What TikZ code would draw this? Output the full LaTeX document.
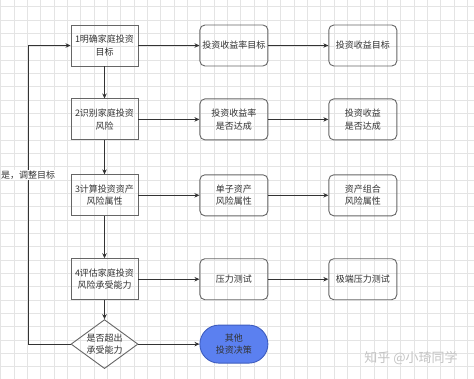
\documentclass[tikz,border=0pt]{standalone}
\usepackage{fontspec}
\newfontfamily\cjk{Noto Sans CJK SC}
\usepackage{xcolor}
\definecolor{cLine}{HTML}{333333}
\definecolor{cBorder}{HTML}{666666}
\definecolor{cText}{HTML}{333333}
\definecolor{cGrid}{HTML}{E4E4E4}
\definecolor{cBlue}{HTML}{5B80F0}
\definecolor{cBlueDark}{HTML}{3D5CBF}
\definecolor{cMark}{HTML}{C4C4C4}
\usepackage{tikz}
\usetikzlibrary{positioning,arrows.meta,shapes.geometric}
\tikzset{
  node-step/.style={draw=cBorder,line width=0.9pt,minimum width=67pt,
    minimum height=41pt,inner sep=1pt,align=center,text=cText,
    font=\cjk\fontsize{9}{12.5}\selectfont},
  node-result/.style={node-step,rounded corners=5pt,minimum width=68pt},
  node-check/.style={draw=cBorder,line width=0.9pt,diamond,aspect=1.37,
    minimum width=67pt,minimum height=49pt,inner sep=-3pt,align=center,
    text=cText,font=\cjk\fontsize{9}{12.5}\selectfont},
  node-end/.style={draw=cBlueDark,line width=0.9pt,fill=cBlue,
    rounded corners=19pt,minimum width=68pt,minimum height=38pt,
    inner sep=1pt,align=center,text=cText,
    font=\cjk\fontsize{9}{12.5}\selectfont},
  arrow/.style={-{Stealth[length=5pt,width=4.5pt]},line width=1pt,draw=cLine},
  grid-line/.style={draw=cGrid,line width=0.6pt},
}

\begin{document}
\begin{tikzpicture}[x=1pt,y=1pt]
  \useasboundingbox (0,0) rectangle (474,-378);
  \fill[white] (0,0) rectangle (474,-378);
  \begin{scope}[shift={(0.7,-6.7)}]
    \draw[grid-line,step=13.333pt] (-14,14) grid (480,-390);
  \end{scope}

  % steps on the left
  \node[node-step] (s1) at (104.5,-45.5) {1明确家庭投资\\目标};
  \node[node-step,below=32pt of s1] (s2) {2识别家庭投资\\风险};
  \node[node-step,below=34pt of s2] (s3) {3计算投资资产\\风险属性};
  \node[node-step,below=42pt of s3] (s4) {4评估家庭投资\\风险承受能力};
  \node[node-check,below=19pt of s4] (chk) {是否超出\\承受能力};

  % results
  \node[node-result,right=61pt of s1] (m1) {投资收益率目标};
  \node[node-result,right=61pt of s2] (m2) {投资收益率\\是否达成};
  \node[node-result,right=61pt of s3] (m3) {单子资产\\风险属性};
  \node[node-result,right=61pt of s4] (m4) {压力测试};
  \node[node-result,right=60pt of m1] (r1) {投资收益目标};
  \node[node-result,right=60pt of m2] (r2) {投资收益\\是否达成};
  \node[node-result,right=60pt of m3] (r3) {资产组合\\风险属性};
  \node[node-result,right=60pt of m4] (r4) {极端压力测试};
  \node[node-end,right=61pt of chk] (other) {其他\\投资决策};

  \draw[arrow] (s1) -- (s2);
  \draw[arrow] (s2) -- (s3);
  \draw[arrow] (s3) -- (s4);
  \draw[arrow] (s4) -- (chk);
  \foreach \i in {1,...,4} {
    \draw[arrow] (s\i) -- (m\i);
    \draw[arrow] (m\i) -- (r\i);
  }
  \draw[arrow] (chk) -- (other);

  % feedback loop
  \coordinate (back) at (28,0);
  \draw[arrow] (chk.west) -| (back |- s1) -- (s1.west);
  \node[fill=white,inner sep=0.5pt,anchor=west,text=cText,
    font=\cjk\fontsize{9}{12}\selectfont] (yes) at (0.5,-175) {是，调整目标};

  \node[text=cMark,font=\cjk\fontsize{13}{15}\selectfont] (mark)
    at (411,-358) {知乎 @小琦同学};
\end{tikzpicture}
\end{document}
